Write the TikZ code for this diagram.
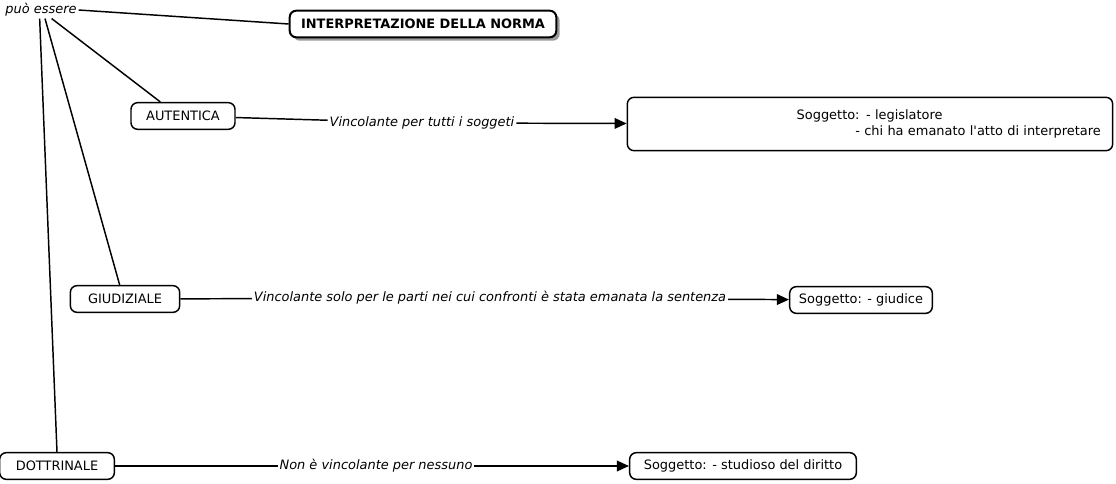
\documentclass[tikz,border=0pt]{standalone}
\usepackage{fontspec}
\setmainfont{DejaVu Sans}[Ligatures=TeXOff]
\usetikzlibrary{arrows.meta,shadows}
\newcommand{\testo}{\fontsize{9.7}{12}\selectfont}
\begin{document}
\begin{tikzpicture}[x=0.75pt,y=-0.75pt,line width=1.1pt,
  concetto/.style={draw,line width=1.1pt,rounded corners=5pt,inner sep=4pt,minimum height=20pt,font=\testo},
  titolo/.style={concetto,line width=1.5pt,font=\testo\bfseries,fill=white,
    drop shadow={shadow xshift=2.5pt,shadow yshift=-2.5pt,fill=gray!80,opacity=1}},
  frase/.style={font=\testo\itshape,inner sep=1pt},
  freccia/.style={-{Triangle[length=9pt,width=8pt]}}]
\useasboundingbox (0,0) rectangle (1116,484);

	\node[frase] (puo) at (41,10) {può essere};
	\node[titolo,minimum width=200pt] (norma) at (423,24) {INTERPRETAZIONE DELLA NORMA};
	\draw (puo.east) -- (norma.west);

	\node[concetto,minimum width=78pt] (aut) at (183,116) {AUTENTICA};
	\node[concetto,minimum width=82pt] (giu) at (125,299) {GIUDIZIALE};
	\node[concetto,minimum width=86pt] (dot) at (57,466) {DOTTRINALE};
	\draw ([xshift=8pt]puo.south) -- ([xshift=-17pt]aut.north);
	\draw ([xshift=3pt]puo.south) -- ([xshift=-4pt]giu.north);
	\draw ([xshift=-1pt]puo.south) -- (dot.north);

	\node[concetto,minimum width=364pt,minimum height=40pt,align=left,text width=354pt] (sog1) at (870,124)
		{\hspace*{122pt}Soggetto: - legislatore\\\hspace*{166pt}- chi ha emanato l'atto di interpretare};
	\node[concetto,minimum width=107pt] (sog2) at (861,300) {Soggetto: - giudice};
	\node[concetto,minimum width=170pt] (sog3) at (743,466) {Soggetto: - studioso del diritto};

	\node[frase] (v1) at (422,123) {Vincolante per tutti i soggeti};
	\node[frase] (v2) at (490,298) {Vincolante solo per le parti nei cui confronti è stata emanata la sentenza};
	\node[frase] (v3) at (376,466) {Non è vincolante per nessuno};

	\draw (aut) -- (v1); \draw[freccia] (v1) -- (sog1);
	\draw (giu) -- (v2); \draw[freccia] (v2) -- (sog2);
	\draw (dot) -- (v3); \draw[freccia] (v3) -- (sog3);
\end{tikzpicture}
\end{document}
